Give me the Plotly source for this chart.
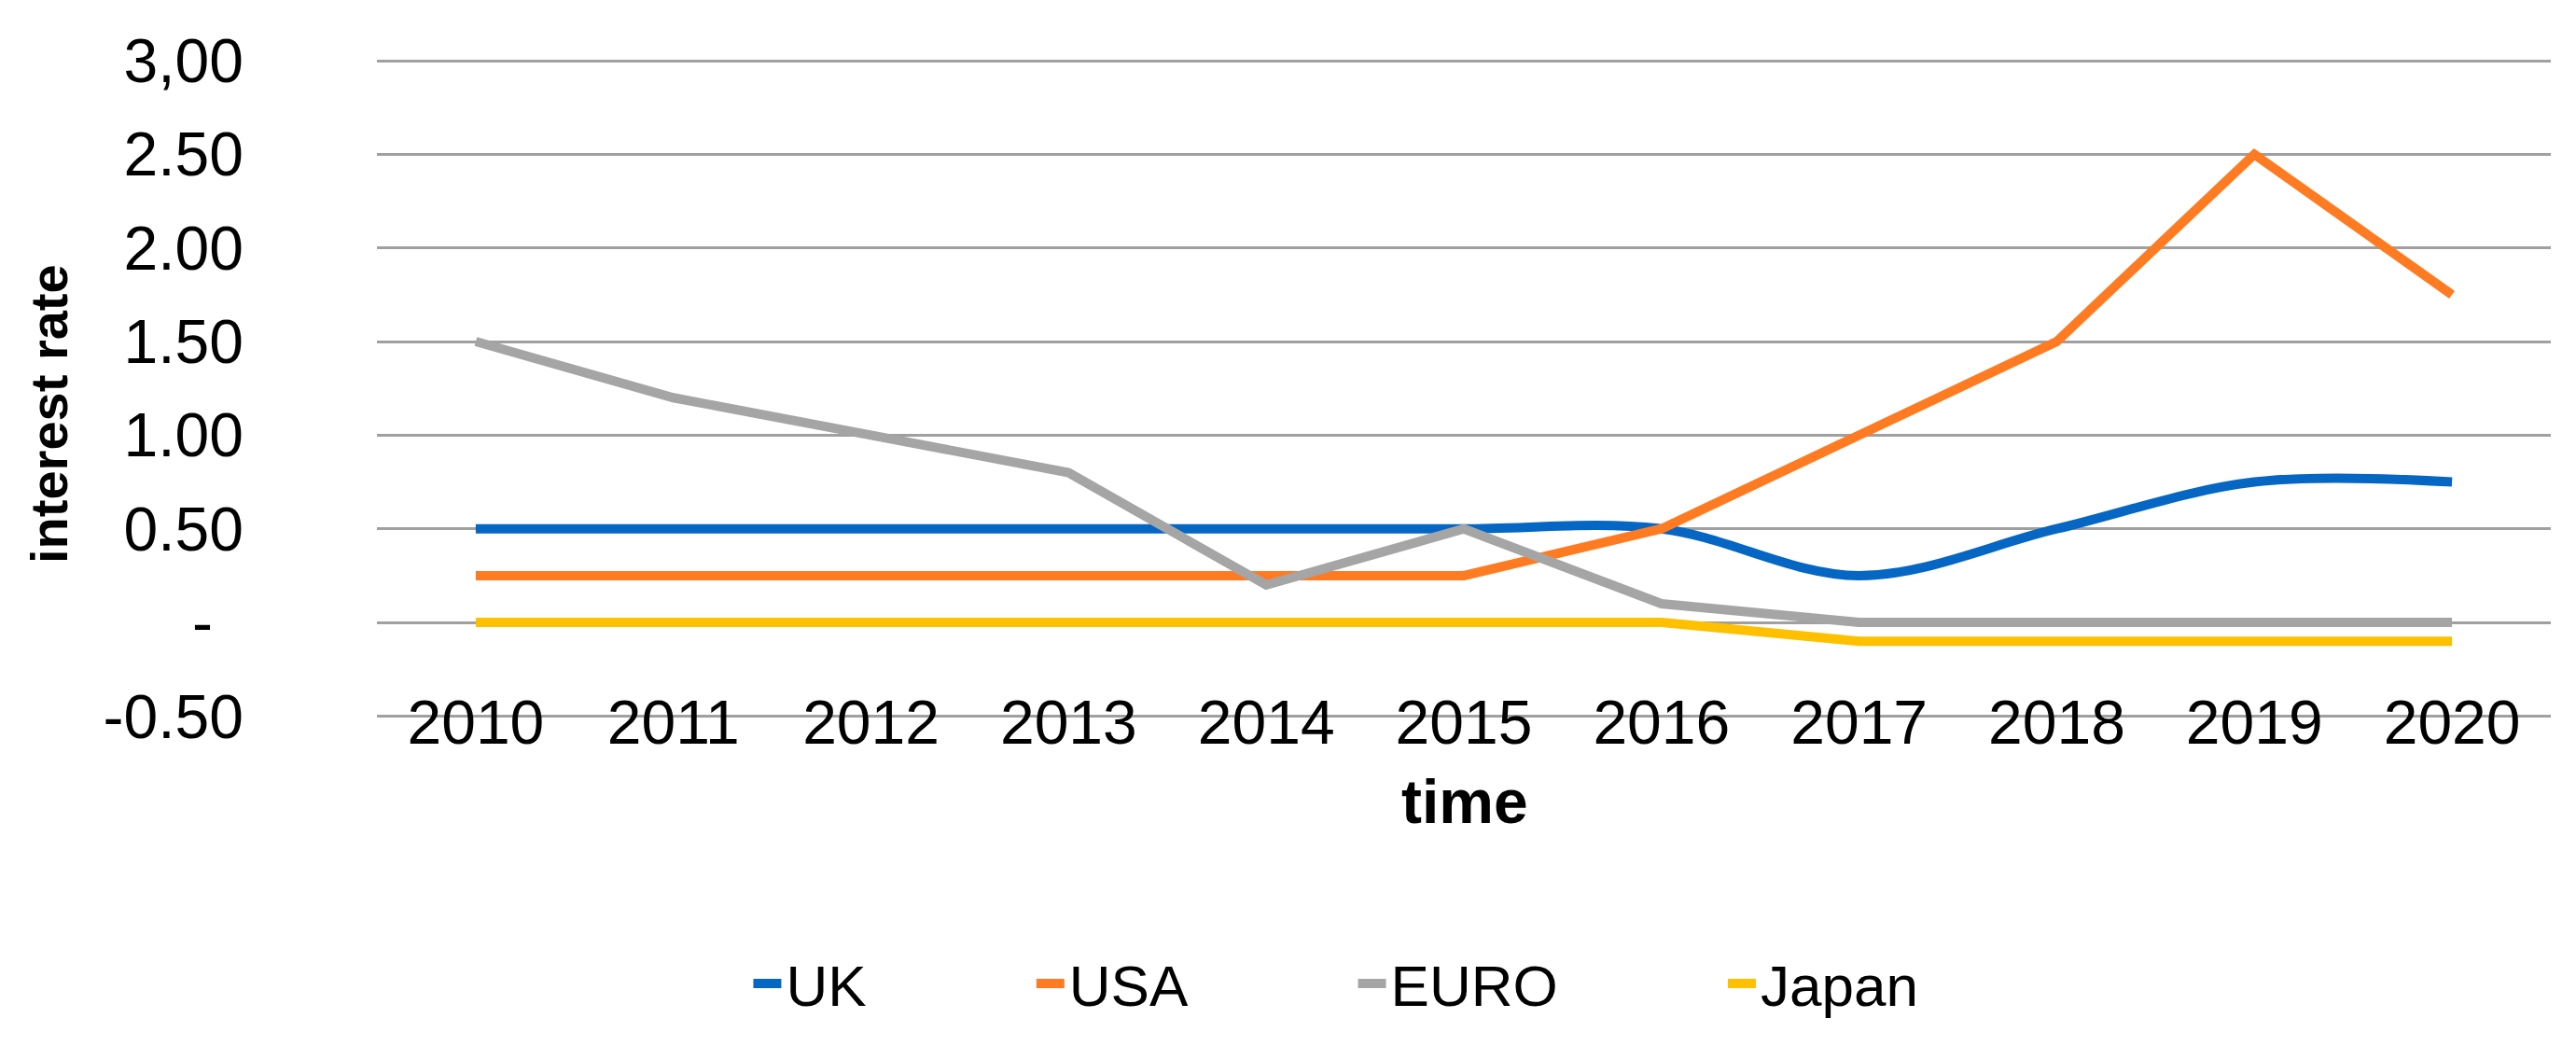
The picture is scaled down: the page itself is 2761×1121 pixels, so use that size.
import plotly.graph_objects as go

years = ["2010", "2011", "2012", "2013", "2014", "2015", "2016", "2017", "2018", "2019", "2020"]
uk = [0.50, 0.50, 0.50, 0.50, 0.50, 0.50, 0.50, 0.25, 0.50, 0.75, 0.75]
usa = [0.25, 0.25, 0.25, 0.25, 0.25, 0.25, 0.50, 1.00, 1.50, 2.50, 1.75]
euro = [1.50, 1.20, 1.00, 0.80, 0.20, 0.50, 0.10, 0.00, 0.00, 0.00, 0.00]
japan = [0.00, 0.00, 0.00, 0.00, 0.00, 0.00, 0.00, -0.10, -0.10, -0.10, -0.10]

series_names = ["UK", "USA", "EURO", "Japan"]

y_tickvals = [-0.5, 0.0, 0.5, 1.0, 1.5, 2.0, 2.5, 3.0]
y_ticktext = ["-0.50", "-\u2002", "0.50", "1.00", "1.50", "2.00", "2.50", "3,00"]

FONT = "Liberation Sans, Arial, sans-serif"
PAD = "\u00a0" * 10  # spacing after legend labels

fig = go.Figure()
fig.add_trace(go.Scatter(x=years, y=uk, name=series_names[0] + PAD, mode="lines",
                         line=dict(color="#0566C4", width=10, shape="spline", smoothing=1.0)))
fig.add_trace(go.Scatter(x=years, y=usa, name=series_names[1] + PAD, mode="lines",
                         line=dict(color="#FF7B22", width=10)))
fig.add_trace(go.Scatter(x=years, y=euro, name=series_names[2] + PAD, mode="lines",
                         line=dict(color="#A5A5A5", width=10)))
fig.add_trace(go.Scatter(x=years, y=japan, name=series_names[3], mode="lines",
                         line=dict(color="#FFC000", width=10)))

fig.update_layout(
    width=2761, height=1121,
    margin=dict(l=396, r=35, t=55, b=0, pad=0),
    paper_bgcolor="white", plot_bgcolor="white",
    font=dict(family=FONT, color="#000000"),
    showlegend=True,
    legend=dict(orientation="h", x=0.171, xanchor="left", y=0.0385, yanchor="middle",
                font=dict(family=FONT, size=62, color="#000000"),
                itemwidth=30, tracegroupgap=0),
    xaxis=dict(type="category", range=[-0.5, 10.5], showgrid=False, zeroline=False,
               showline=False, ticks="", anchor="free", position=0.3534,
               tickfont=dict(family=FONT, size=66, color="#000000")),
    yaxis=dict(range=[-0.51, 3.01], domain=[0.3148, 1.0], tickvals=y_tickvals, ticktext=y_ticktext,
               showgrid=True, gridcolor="#A0A0A0", gridwidth=3, zeroline=False, showline=False,
               ticks="", ticklabelstandoff=142,
               tickfont=dict(family=FONT, size=66, color="#000000")),
    annotations=[
        dict(text="<b>interest rate</b>", xref="paper", yref="paper", x=-0.1506, y=0.6306,
             xanchor="center", yanchor="middle", textangle=-90, showarrow=False,
             font=dict(family=FONT, size=56, color="#000000")),
        dict(text="<b>time</b>", xref="paper", yref="paper", x=0.5004, y=0.2275,
             xanchor="center", yanchor="middle", showarrow=False,
             font=dict(family=FONT, size=66, color="#000000")),
    ],
)

fig.write_html("out.html")
